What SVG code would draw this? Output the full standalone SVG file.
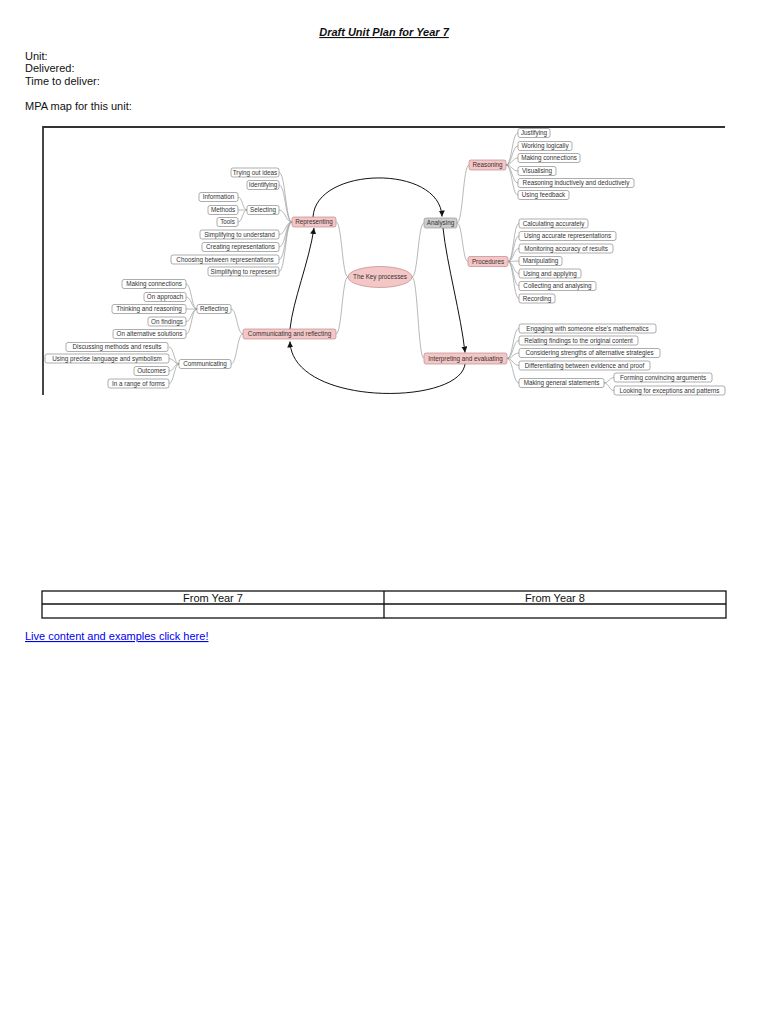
<svg xmlns="http://www.w3.org/2000/svg" width="768" height="1024" viewBox="0 0 768 1024">
<defs>
<marker id="ah" markerUnits="userSpaceOnUse" markerWidth="7" markerHeight="7" refX="6" refY="3" orient="auto">
<path d="M0,0 L6,3 L0,6 z" fill="#111"/>
</marker>
<style>
.doc{font-family:"Liberation Sans",Arial,sans-serif;font-size:11px;fill:#111}
.title{font-weight:bold;font-style:italic;text-decoration:underline}
.link{fill:#0000ee;text-decoration:underline}
.n rect{fill:#fff;stroke:#8a8a8a;stroke-width:0.7}
.k rect,.k ellipse{fill:#f5c6c6;stroke:#c08a8a;stroke-width:0.7}
.g rect{fill:#cdcdcd;stroke:#999;stroke-width:0.7}
.n text,.k text,.g text{font-family:"Liberation Sans",Arial,sans-serif;font-size:6.3px;text-anchor:middle;fill:#333}
.c{fill:none;stroke:#9a9a9a;stroke-width:0.7}
.a{fill:none;stroke:#111;stroke-width:1;marker-end:url(#ah)}
.tbl{fill:none;stroke:#111;stroke-width:1.3}
</style>
</defs>
<rect width="768" height="1024" fill="#fff"/>
<text class="doc title" x="384" y="36" text-anchor="middle">Draft Unit Plan for Year 7</text>
<text class="doc" x="25" y="60">Unit:</text>
<text class="doc" x="25" y="72">Delivered:</text>
<text class="doc" x="25" y="85">Time to deliver:</text>
<text class="doc" x="25" y="110">MPA map for this unit:</text>
<path d="M43,395 V127 H725" fill="none" stroke="#333" stroke-width="1.8"/>
<g id="connectors">
<path class="c" d="M348,277 C342,277 342,222 336,222"/>
<path class="c" d="M348,277 C342,277 342,334 336,334"/>
<path class="c" d="M412,277 C418,277 418,223 424,223"/>
<path class="c" d="M412,277 C418,277 418,358.5 424,358.5"/>
<path class="c" d="M457,223 C463,223 463,165 469,165"/>
<path class="c" d="M457,223 C462.5,223 462.5,261.5 468,261.5"/>
<path class="c" d="M506,165 C512,165 512,133 518,133"/>
<path class="c" d="M506,165 C512,165 512,146 518,146"/>
<path class="c" d="M506,165 C512,165 512,158 518,158"/>
<path class="c" d="M506,165 C512,165 512,171 518,171"/>
<path class="c" d="M506,165 C512,165 512,183 518,183"/>
<path class="c" d="M506,165 C512,165 512,195 518,195"/>
<path class="c" d="M508,261.5 C513.5,261.5 513.5,223.5 519,223.5"/>
<path class="c" d="M508,261.5 C513.5,261.5 513.5,236 519,236"/>
<path class="c" d="M508,261.5 C513.5,261.5 513.5,248.5 519,248.5"/>
<path class="c" d="M508,261.5 C513.5,261.5 513.5,261 519,261"/>
<path class="c" d="M508,261.5 C513.5,261.5 513.5,273.5 519,273.5"/>
<path class="c" d="M508,261.5 C513.5,261.5 513.5,286 519,286"/>
<path class="c" d="M508,261.5 C513.5,261.5 513.5,298.5 519,298.5"/>
<path class="c" d="M507,358.5 C513,358.5 513,328.5 519,328.5"/>
<path class="c" d="M507,358.5 C513,358.5 513,340.5 519,340.5"/>
<path class="c" d="M507,358.5 C513,358.5 513,353 519,353"/>
<path class="c" d="M507,358.5 C513,358.5 513,365.5 519,365.5"/>
<path class="c" d="M507,358.5 C513,358.5 513,383 519,383"/>
<path class="c" d="M604,383 C609,383 609,377.5 614,377.5"/>
<path class="c" d="M604,383 C609,383 609,390.5 614,390.5"/>
<path class="c" d="M292,222 C285.5,222 285.5,172.5 279,172.5"/>
<path class="c" d="M292,222 C285.5,222 285.5,185 279,185"/>
<path class="c" d="M292,222 C285.5,222 285.5,210 279,210"/>
<path class="c" d="M292,222 C285.5,222 285.5,234.5 279,234.5"/>
<path class="c" d="M292,222 C285.5,222 285.5,247 279,247"/>
<path class="c" d="M292,222 C285.5,222 285.5,259.5 279,259.5"/>
<path class="c" d="M292,222 C285.5,222 285.5,271.5 279,271.5"/>
<path class="c" d="M247,210 C242.5,210 242.5,197 238,197"/>
<path class="c" d="M247,210 C242.5,210 242.5,210 238,210"/>
<path class="c" d="M247,210 C242.5,210 242.5,222 238,222"/>
<path class="c" d="M243,334 C237,334 237,309 231,309"/>
<path class="c" d="M243,334 C237,334 237,364 231,364"/>
<path class="c" d="M197,309 C191.5,309 191.5,284 186,284"/>
<path class="c" d="M197,309 C191.5,309 191.5,297 186,297"/>
<path class="c" d="M197,309 C191.5,309 191.5,309 186,309"/>
<path class="c" d="M197,309 C191.5,309 191.5,321.5 186,321.5"/>
<path class="c" d="M197,309 C191.5,309 191.5,334 186,334"/>
<path class="c" d="M179,364 C174,364 174,347 169,347"/>
<path class="c" d="M179,364 C174,364 174,358.5 169,358.5"/>
<path class="c" d="M179,364 C174,364 174,371 169,371"/>
<path class="c" d="M179,364 C174,364 174,383.5 169,383.5"/>
<path class="a" d="M313,217 C316,166 440,164 442,216.5"/>
<path class="a" d="M443,228 C447,265 461,315 465,352.5"/>
<path class="a" d="M465,364 C460,406 292,407 290,341.5"/>
<path class="a" d="M290,329 C293,300 309,262 314,228"/>
</g>
<g id="key-processes" class="k"><ellipse cx="380" cy="277" rx="32" ry="10.5"/><text x="380" y="279.2">The Key processes</text></g>
<g id="representing" class="k"><rect x="292" y="217" width="44" height="10" rx="2"/><text x="314" y="224.2">Representing</text></g>
<g id="communicating-reflecting" class="k"><rect x="243" y="329" width="93" height="10" rx="2"/><text x="289.5" y="336.2">Communicating and reflecting</text></g>
<g id="analysing" class="g"><rect x="424" y="218" width="33" height="10" rx="2"/><text x="440.5" y="225.2">Analysing</text></g>
<g id="interpreting" class="k"><rect x="424" y="353" width="83" height="11" rx="2"/><text x="465.5" y="360.7">Interpreting and evaluating</text></g>
<g id="reasoning" class="k"><rect x="469" y="160" width="37" height="10" rx="2"/><text x="487.5" y="167.2">Reasoning</text></g>
<g id="procedures" class="k"><rect x="468" y="256.5" width="40" height="10" rx="2"/><text x="488" y="263.7">Procedures</text></g>
<g id="trying" class="n"><rect x="231" y="168" width="48" height="9" rx="2"/><text x="255" y="174.7">Trying out ideas</text></g>
<g id="identifying" class="n"><rect x="247" y="180.5" width="32" height="9" rx="2"/><text x="263" y="187.2">Identifying</text></g>
<g id="selecting" class="n"><rect x="247" y="205.5" width="32" height="9" rx="2"/><text x="263" y="212.2">Selecting</text></g>
<g id="information" class="n"><rect x="199" y="192.5" width="39" height="9" rx="2"/><text x="218.5" y="199.2">Information</text></g>
<g id="methods" class="n"><rect x="208" y="205.5" width="30" height="9" rx="2"/><text x="223" y="212.2">Methods</text></g>
<g id="tools" class="n"><rect x="217" y="217.5" width="21" height="9" rx="2"/><text x="227.5" y="224.2">Tools</text></g>
<g id="simp-understand" class="n"><rect x="200" y="230" width="79" height="9" rx="2"/><text x="239.5" y="236.7">Simplifying to understand</text></g>
<g id="creating" class="n"><rect x="202" y="242.5" width="77" height="9" rx="2"/><text x="240.5" y="249.2">Creating representations</text></g>
<g id="choosing" class="n"><rect x="171" y="255" width="108" height="9" rx="2"/><text x="225" y="261.7">Choosing between representations</text></g>
<g id="simp-represent" class="n"><rect x="208" y="267" width="71" height="9" rx="2"/><text x="243.5" y="273.7">Simplifying to represent</text></g>
<g id="reflecting" class="n"><rect x="197" y="304.5" width="34" height="9" rx="2"/><text x="214" y="311.2">Reflecting</text></g>
<g id="making-connections-l" class="n"><rect x="122" y="279.5" width="64" height="9" rx="2"/><text x="154" y="286.2">Making connections</text></g>
<g id="on-approach" class="n"><rect x="144" y="292.5" width="42" height="9" rx="2"/><text x="165" y="299.2">On approach</text></g>
<g id="thinking" class="n"><rect x="112" y="304.5" width="74" height="9" rx="2"/><text x="149" y="311.2">Thinking and reasoning</text></g>
<g id="on-findings" class="n"><rect x="148" y="317" width="38" height="9" rx="2"/><text x="167" y="323.7">On findings</text></g>
<g id="on-alternative" class="n"><rect x="113" y="329.5" width="73" height="9" rx="2"/><text x="149.5" y="336.2">On alternative solutions</text></g>
<g id="communicating" class="n"><rect x="179" y="359.5" width="52" height="9" rx="2"/><text x="205" y="366.2">Communicating</text></g>
<g id="discussing" class="n"><rect x="66" y="342.5" width="102" height="9" rx="2"/><text x="117" y="349.2">Discussing methods and results</text></g>
<g id="precise-language" class="n"><rect x="45" y="354" width="124" height="9" rx="2"/><text x="107" y="360.7">Using precise language and symbolism</text></g>
<g id="outcomes" class="n"><rect x="134" y="366.5" width="35" height="9" rx="2"/><text x="151.5" y="373.2">Outcomes</text></g>
<g id="range-of-forms" class="n"><rect x="108" y="379" width="61" height="9" rx="2"/><text x="138.5" y="385.7">In a range of forms</text></g>
<g id="justifying" class="n"><rect x="518" y="128.5" width="32" height="9" rx="2"/><text x="534" y="135.2">Justifying</text></g>
<g id="working-logically" class="n"><rect x="518" y="141.5" width="54" height="9" rx="2"/><text x="545" y="148.2">Working logically</text></g>
<g id="making-connections-r" class="n"><rect x="518" y="153.5" width="62" height="9" rx="2"/><text x="549" y="160.2">Making connections</text></g>
<g id="visualising" class="n"><rect x="518" y="166.5" width="38" height="9" rx="2"/><text x="537" y="173.2">Visualising</text></g>
<g id="inductive" class="n"><rect x="518" y="178.5" width="116" height="9" rx="2"/><text x="576" y="185.2">Reasoning inductively and deductively</text></g>
<g id="feedback" class="n"><rect x="518" y="190.5" width="51" height="9" rx="2"/><text x="543.5" y="197.2">Using feedback</text></g>
<g id="calculating" class="n"><rect x="519" y="219" width="69" height="9" rx="2"/><text x="553.5" y="225.7">Calculating accurately</text></g>
<g id="accurate-rep" class="n"><rect x="519" y="231.5" width="97" height="9" rx="2"/><text x="567.5" y="238.2">Using accurate representations</text></g>
<g id="monitoring" class="n"><rect x="519" y="244" width="94" height="9" rx="2"/><text x="566" y="250.7">Monitoring accuracy of results</text></g>
<g id="manipulating" class="n"><rect x="519" y="256.5" width="43" height="9" rx="2"/><text x="540.5" y="263.2">Manipulating</text></g>
<g id="using-applying" class="n"><rect x="519" y="269" width="62" height="9" rx="2"/><text x="550" y="275.7">Using and applying</text></g>
<g id="collecting" class="n"><rect x="519" y="281.5" width="77" height="9" rx="2"/><text x="557.5" y="288.2">Collecting and analysing</text></g>
<g id="recording" class="n"><rect x="519" y="294" width="36" height="9" rx="2"/><text x="537" y="300.7">Recording</text></g>
<g id="engaging" class="n"><rect x="519" y="324" width="137" height="9" rx="2"/><text x="587.5" y="330.7">Engaging with someone else's mathematics</text></g>
<g id="relating" class="n"><rect x="519" y="336" width="119" height="9" rx="2"/><text x="578.5" y="342.7">Relating findings to the original content</text></g>
<g id="considering" class="n"><rect x="519" y="348.5" width="141" height="9" rx="2"/><text x="589.5" y="355.2">Considering strengths of alternative strategies</text></g>
<g id="differentiating" class="n"><rect x="519" y="361" width="131" height="9" rx="2"/><text x="584.5" y="367.7">Differentiating between evidence and proof</text></g>
<g id="general-statements" class="n"><rect x="519" y="378.5" width="85" height="9" rx="2"/><text x="561.5" y="385.2">Making general statements</text></g>
<g id="forming" class="n"><rect x="614" y="373" width="98" height="9" rx="2"/><text x="663" y="379.7">Forming convincing arguments</text></g>
<g id="looking" class="n"><rect x="614" y="386" width="111" height="9" rx="2"/><text x="669.5" y="392.7">Looking for exceptions and patterns</text></g>
<g id="table">
<rect class="tbl" x="42" y="591" width="684" height="27"/>
<line class="tbl" x1="42" y1="604" x2="726" y2="604"/>
<line class="tbl" x1="384" y1="591" x2="384" y2="618"/>
<text class="doc" x="213" y="601.5" text-anchor="middle">From Year 7</text>
<text class="doc" x="555" y="601.5" text-anchor="middle">From Year 8</text>
</g>
<text class="doc link" x="25" y="640">Live content and examples click here!</text>
</svg>
